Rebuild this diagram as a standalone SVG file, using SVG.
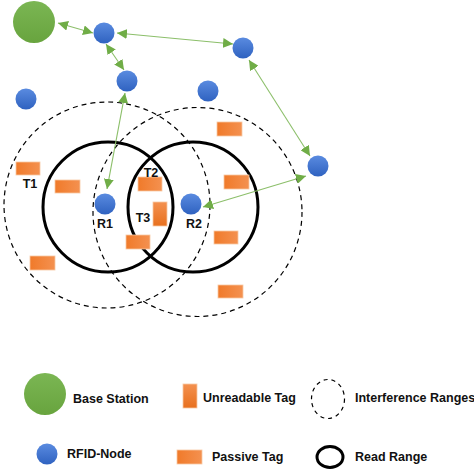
<svg xmlns="http://www.w3.org/2000/svg" width="474" height="469" viewBox="0 0 474 469">
<defs>
<linearGradient id="gBlue" x1="0" y1="0" x2="0" y2="1"><stop offset="0" stop-color="#5A8BE0"/><stop offset="1" stop-color="#2F62C0"/></linearGradient>
<linearGradient id="gGreen" x1="0" y1="0" x2="0" y2="1"><stop offset="0" stop-color="#7BB653"/><stop offset="1" stop-color="#68A43E"/></linearGradient>
<linearGradient id="gOrange" x1="0" y1="0" x2="1" y2="0"><stop offset="0" stop-color="#F07A2A"/><stop offset="1" stop-color="#F49150"/></linearGradient>
<linearGradient id="gOrangeV" x1="0" y1="0" x2="0" y2="1"><stop offset="0" stop-color="#F49150"/><stop offset="1" stop-color="#E8701E"/></linearGradient>
<marker id="ah" viewBox="0 0 10 10" refX="10" refY="5" markerWidth="10" markerHeight="10" markerUnits="userSpaceOnUse" orient="auto-start-reverse"><path d="M0,0 L10,5 L0,10 z" fill="#70AD47"/></marker>
</defs>
<style>
.node{fill:url(#gBlue);}
.bs{fill:url(#gGreen);}
.tag{fill:url(#gOrange);stroke:#F8C9A4;stroke-width:0.8;}
.tagv{fill:url(#gOrangeV);stroke:#F8C9A4;stroke-width:0.8;}
.read{fill:none;stroke:#000;stroke-width:3;}
.intf{fill:none;stroke:#000;stroke-width:1.2;stroke-dasharray:5 4;}
.lnk{stroke:#8CBF6A;stroke-width:1.1;fill:none;marker-start:url(#ah);marker-end:url(#ah);}
.lbl{font-family:"Liberation Sans",Arial,sans-serif;font-weight:bold;font-size:12.5px;fill:#111;}
.leg{font-family:"Liberation Sans",Arial,sans-serif;font-weight:bold;font-size:12.5px;fill:#111;}
</style>
<rect width="474" height="469" fill="#fff"/>

<g id="ranges">
<circle class="intf" cx="107" cy="205" r="103"/>
<circle class="intf" cx="197.5" cy="212" r="104.5"/>
<circle class="read" cx="108" cy="207" r="65"/>
<circle class="read" cx="193" cy="207" r="65"/>
</g>

<g id="tags">
<rect class="tag" x="16" y="162" width="24" height="13"/>
<rect class="tag" x="55" y="180" width="25" height="13"/>
<rect class="tag" x="138" y="177" width="24" height="14"/>
<rect class="tagv" x="153" y="202" width="14" height="24"/>
<rect class="tag" x="126" y="235" width="24" height="14"/>
<rect class="tag" x="30" y="256" width="25" height="14"/>
<rect class="tag" x="217" y="122" width="25" height="14"/>
<rect class="tag" x="224" y="175" width="25" height="14"/>
<rect class="tag" x="214" y="231" width="24" height="13"/>
<rect class="tag" x="218" y="285" width="25" height="13"/>
</g>

<g id="connectors">
<line class="lnk" x1="58" y1="23" x2="93" y2="33"/>
<line class="lnk" x1="117" y1="33" x2="233" y2="44"/>
<line class="lnk" x1="106" y1="44" x2="124" y2="70"/>
<line class="lnk" x1="125" y1="93" x2="107" y2="189"/>
<line class="lnk" x1="249" y1="60" x2="310" y2="156"/>
<line class="lnk" x1="306" y1="176" x2="203" y2="207"/>
</g>

<g id="base-station"><circle class="bs" cx="34" cy="22" r="21"/></g>
<g id="node-a"><circle class="node" cx="104" cy="33" r="10.5"/></g>
<g id="node-b"><circle class="node" cx="243" cy="48" r="10.5"/></g>
<g id="node-c"><circle class="node" cx="127" cy="81" r="10.5"/></g>
<g id="node-d"><circle class="node" cx="26" cy="99" r="10.5"/></g>
<g id="node-e"><circle class="node" cx="208" cy="91" r="10.5"/></g>
<g id="node-f"><circle class="node" cx="318" cy="166" r="10.5"/></g>
<g id="node-r1"><circle class="node" cx="105" cy="204" r="10.5"/></g>
<g id="node-r2"><circle class="node" cx="191" cy="204" r="10.5"/></g>

<g id="labels">
<text class="lbl" x="30" y="188" text-anchor="middle">T1</text>
<text class="lbl" x="151" y="177" text-anchor="middle">T2</text>
<text class="lbl" x="143" y="222" text-anchor="middle">T3</text>
<text class="lbl" x="105" y="228" text-anchor="middle">R1</text>
<text class="lbl" x="194" y="228" text-anchor="middle">R2</text>
</g>

<g id="legend">
<circle class="bs" cx="45" cy="394" r="21"/>
<text class="leg" x="73" y="403">Base Station</text>
<rect class="tagv" x="183" y="384" width="14" height="24"/>
<text class="leg" x="203" y="402">Unreadable Tag</text>
<ellipse class="intf" cx="328" cy="399" rx="16.5" ry="19.5" style="stroke-dasharray:4 4"/>
<text class="leg" x="355" y="402">Interference Ranges</text>
<circle class="node" cx="47" cy="454" r="10.5"/>
<text class="leg" x="67" y="458">RFID-Node</text>
<rect class="tag" x="177" y="450" width="25" height="14"/>
<text class="leg" x="212" y="461">Passive Tag</text>
<ellipse class="read" cx="330" cy="457" rx="13" ry="10.5"/>
<text class="leg" x="355" y="461">Read Range</text>
</g>
</svg>
